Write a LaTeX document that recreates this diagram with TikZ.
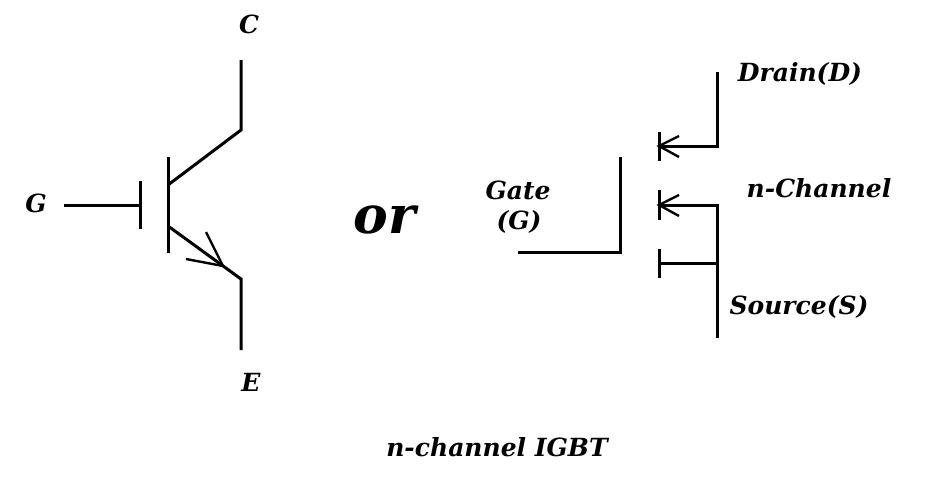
\documentclass[tikz,border=0pt]{standalone}
\usepackage{fontspec}
\setmainfont{DejaVu Serif}
\usepackage{xcolor}
\usepackage{tikz}
\tikzset{
    lbl/.style = {align=center, inner sep=0pt, text centered, font=\fontsize{25}{28}\selectfont\bfseries\itshape},
    big_lbl/.style = {lbl, font=\fontsize{52}{56}\selectfont\bfseries\itshape},
    wire/.style = {draw=black, line width=3pt, line cap=butt, line join=miter},
    barb/.style = {draw=black, line width=2.4pt}
}
\begin{document}
\begin{tikzpicture}[x=1pt, y=-1pt]
    \useasboundingbox (0,0) rectangle (942,485);
    % igbt symbol
    \coordinate (c_top) at (241,60);
    \coordinate (c_knee) at (241,130);
    \coordinate (c_base) at (168,185);
    \coordinate (bar_top) at (168,157);
    \coordinate (bar_bot) at (168,253);
    \coordinate (plate_top) at (140,181);
    \coordinate (plate_bot) at (140,229);
    \coordinate (g_end) at (64,205);
    \coordinate (g_plate) at (140,205);
    \coordinate (e_base) at (168,226);
    \coordinate (e_knee) at (241,279);
    \coordinate (e_bot) at (241,350);
    \coordinate (e_tip) at (223,266);
    \coordinate (e_barb1) at (206,232);
    \coordinate (e_barb2) at (186,259);
    \draw [wire] (c_top) -- (c_knee) -- (c_base);
    \draw [wire] (bar_top) -- (bar_bot);
    \draw [wire] (plate_top) -- (plate_bot);
    \draw [wire] (g_end) -- (g_plate);
    \draw [wire] (e_base) -- (e_knee) -- (e_bot);
    \draw [barb] (e_barb1) -- (e_tip) -- (e_barb2);
    % mosfet form
    \coordinate (d_top) at (717,72);
    \coordinate (d_knee) at (717,146);
    \coordinate (d_tip) at (659,146);
    \coordinate (d_plate_top) at (659,132);
    \coordinate (d_plate_bot) at (659,161);
    \coordinate (d_barb1) at (679,136);
    \coordinate (d_barb2) at (679,157);
    \coordinate (n_knee) at (717,205);
    \coordinate (n_tip) at (659,205);
    \coordinate (n_plate_top) at (659,190);
    \coordinate (n_plate_bot) at (659,220);
    \coordinate (n_barb1) at (679,195);
    \coordinate (n_barb2) at (679,216);
    \coordinate (s_plate_top) at (659,249);
    \coordinate (s_plate_bot) at (659,278);
    \coordinate (s_plate) at (659,263);
    \coordinate (s_join) at (717,263);
    \coordinate (s_bot) at (717,338);
    \coordinate (gate_end) at (518,252);
    \coordinate (gate_knee) at (620,252);
    \coordinate (gate_top) at (620,157);
    \draw [wire] (d_top) -- (d_knee) -- (d_tip);
    \draw [wire] (d_plate_top) -- (d_plate_bot);
    \draw [barb] (d_barb1) -- (d_tip) -- (d_barb2);
    \draw [wire] (s_bot) -- (n_knee) -- (n_tip);
    \draw [wire] (n_plate_top) -- (n_plate_bot);
    \draw [barb] (n_barb1) -- (n_tip) -- (n_barb2);
    \draw [wire] (s_plate_top) -- (s_plate_bot);
    \draw [wire] (s_plate) -- (s_join);
    \draw [wire] (gate_end) -- (gate_knee) -- (gate_top);
    % labels
    \node [lbl] (c_lbl) at (249,24) {C};
    \node [lbl] (g_lbl) at (36,203) {G};
    \node [lbl] (e_lbl) at (251,382) {E};
    \node [big_lbl] (or_lbl) at (385,220) {or};
    \node [lbl] (gate_lbl) at (518,190) {Gate};
    \node [lbl] (gate_g_lbl) at (519,222) {(G)};
    \node [lbl] (drain_lbl) at (800,74) {Drain(D)};
    \node [lbl] (chan_lbl) at (819,188) {n-Channel};
    \node [lbl] (source_lbl) at (799,307) {Source(S)};
    \node [lbl] (title_lbl) at (497,447) {n-channel IGBT};
\end{tikzpicture}
\end{document}
